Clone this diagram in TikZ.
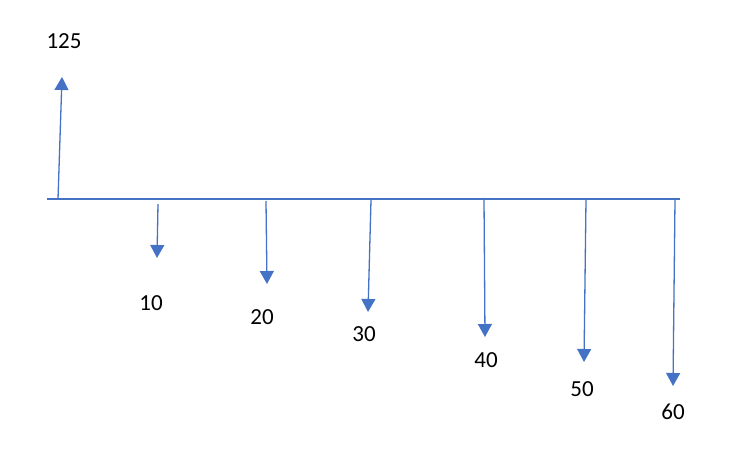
\documentclass[tikz,border=0pt]{standalone}
\usepackage{fontspec}
\setmainfont{Carlito}
\usetikzlibrary{arrows.meta}
\definecolor{cfblue}{HTML}{4472C4}
\begin{document}
\begin{tikzpicture}[x=1pt,y=-1pt,
    axis/.style={draw=cfblue,line width=1.3pt},
    flow/.style={axis,-{Triangle[width=14pt,length=13pt]}},
    amt/.style={font=\fontsize{23}{27}\selectfont,inner sep=0pt}]
    \useasboundingbox (0,0) rectangle (729,470);
    \coordinate (l) at (47,199);
    \coordinate (r) at (680,199);
    \draw[axis] (l)--(r);
    % inflow
    \coordinate (t0) at (58,199);
    \coordinate (h0) at (62,77);
    \node[amt] (a0) at (64,41) {125};
    \draw[flow] (t0)--(h0);
    % outflows
    \coordinate (t1) at (158,204);
    \coordinate (h1) at (157,258);
    \node[amt] (a1) at (151,303) {10};
    \coordinate (t2) at (266,201);
    \coordinate (h2) at (267,284);
    \node[amt] (a2) at (262,317) {20};
    \coordinate (t3) at (371,200);
    \coordinate (h3) at (368,312);
    \node[amt] (a3) at (364,334) {30};
    \coordinate (t4) at (484,198);
    \coordinate (h4) at (485,337);
    \node[amt] (a4) at (486,360) {40};
    \coordinate (t5) at (586,200);
    \coordinate (h5) at (584,362);
    \node[amt] (a5) at (582,389) {50};
    \coordinate (t6) at (675,200);
    \coordinate (h6) at (673,386);
    \node[amt] (a6) at (673,412) {60};
    \draw[flow] (t1)--(h1);
    \draw[flow] (t2)--(h2);
    \draw[flow] (t3)--(h3);
    \draw[flow] (t4)--(h4);
    \draw[flow] (t5)--(h5);
    \draw[flow] (t6)--(h6);
\end{tikzpicture}
\end{document}
